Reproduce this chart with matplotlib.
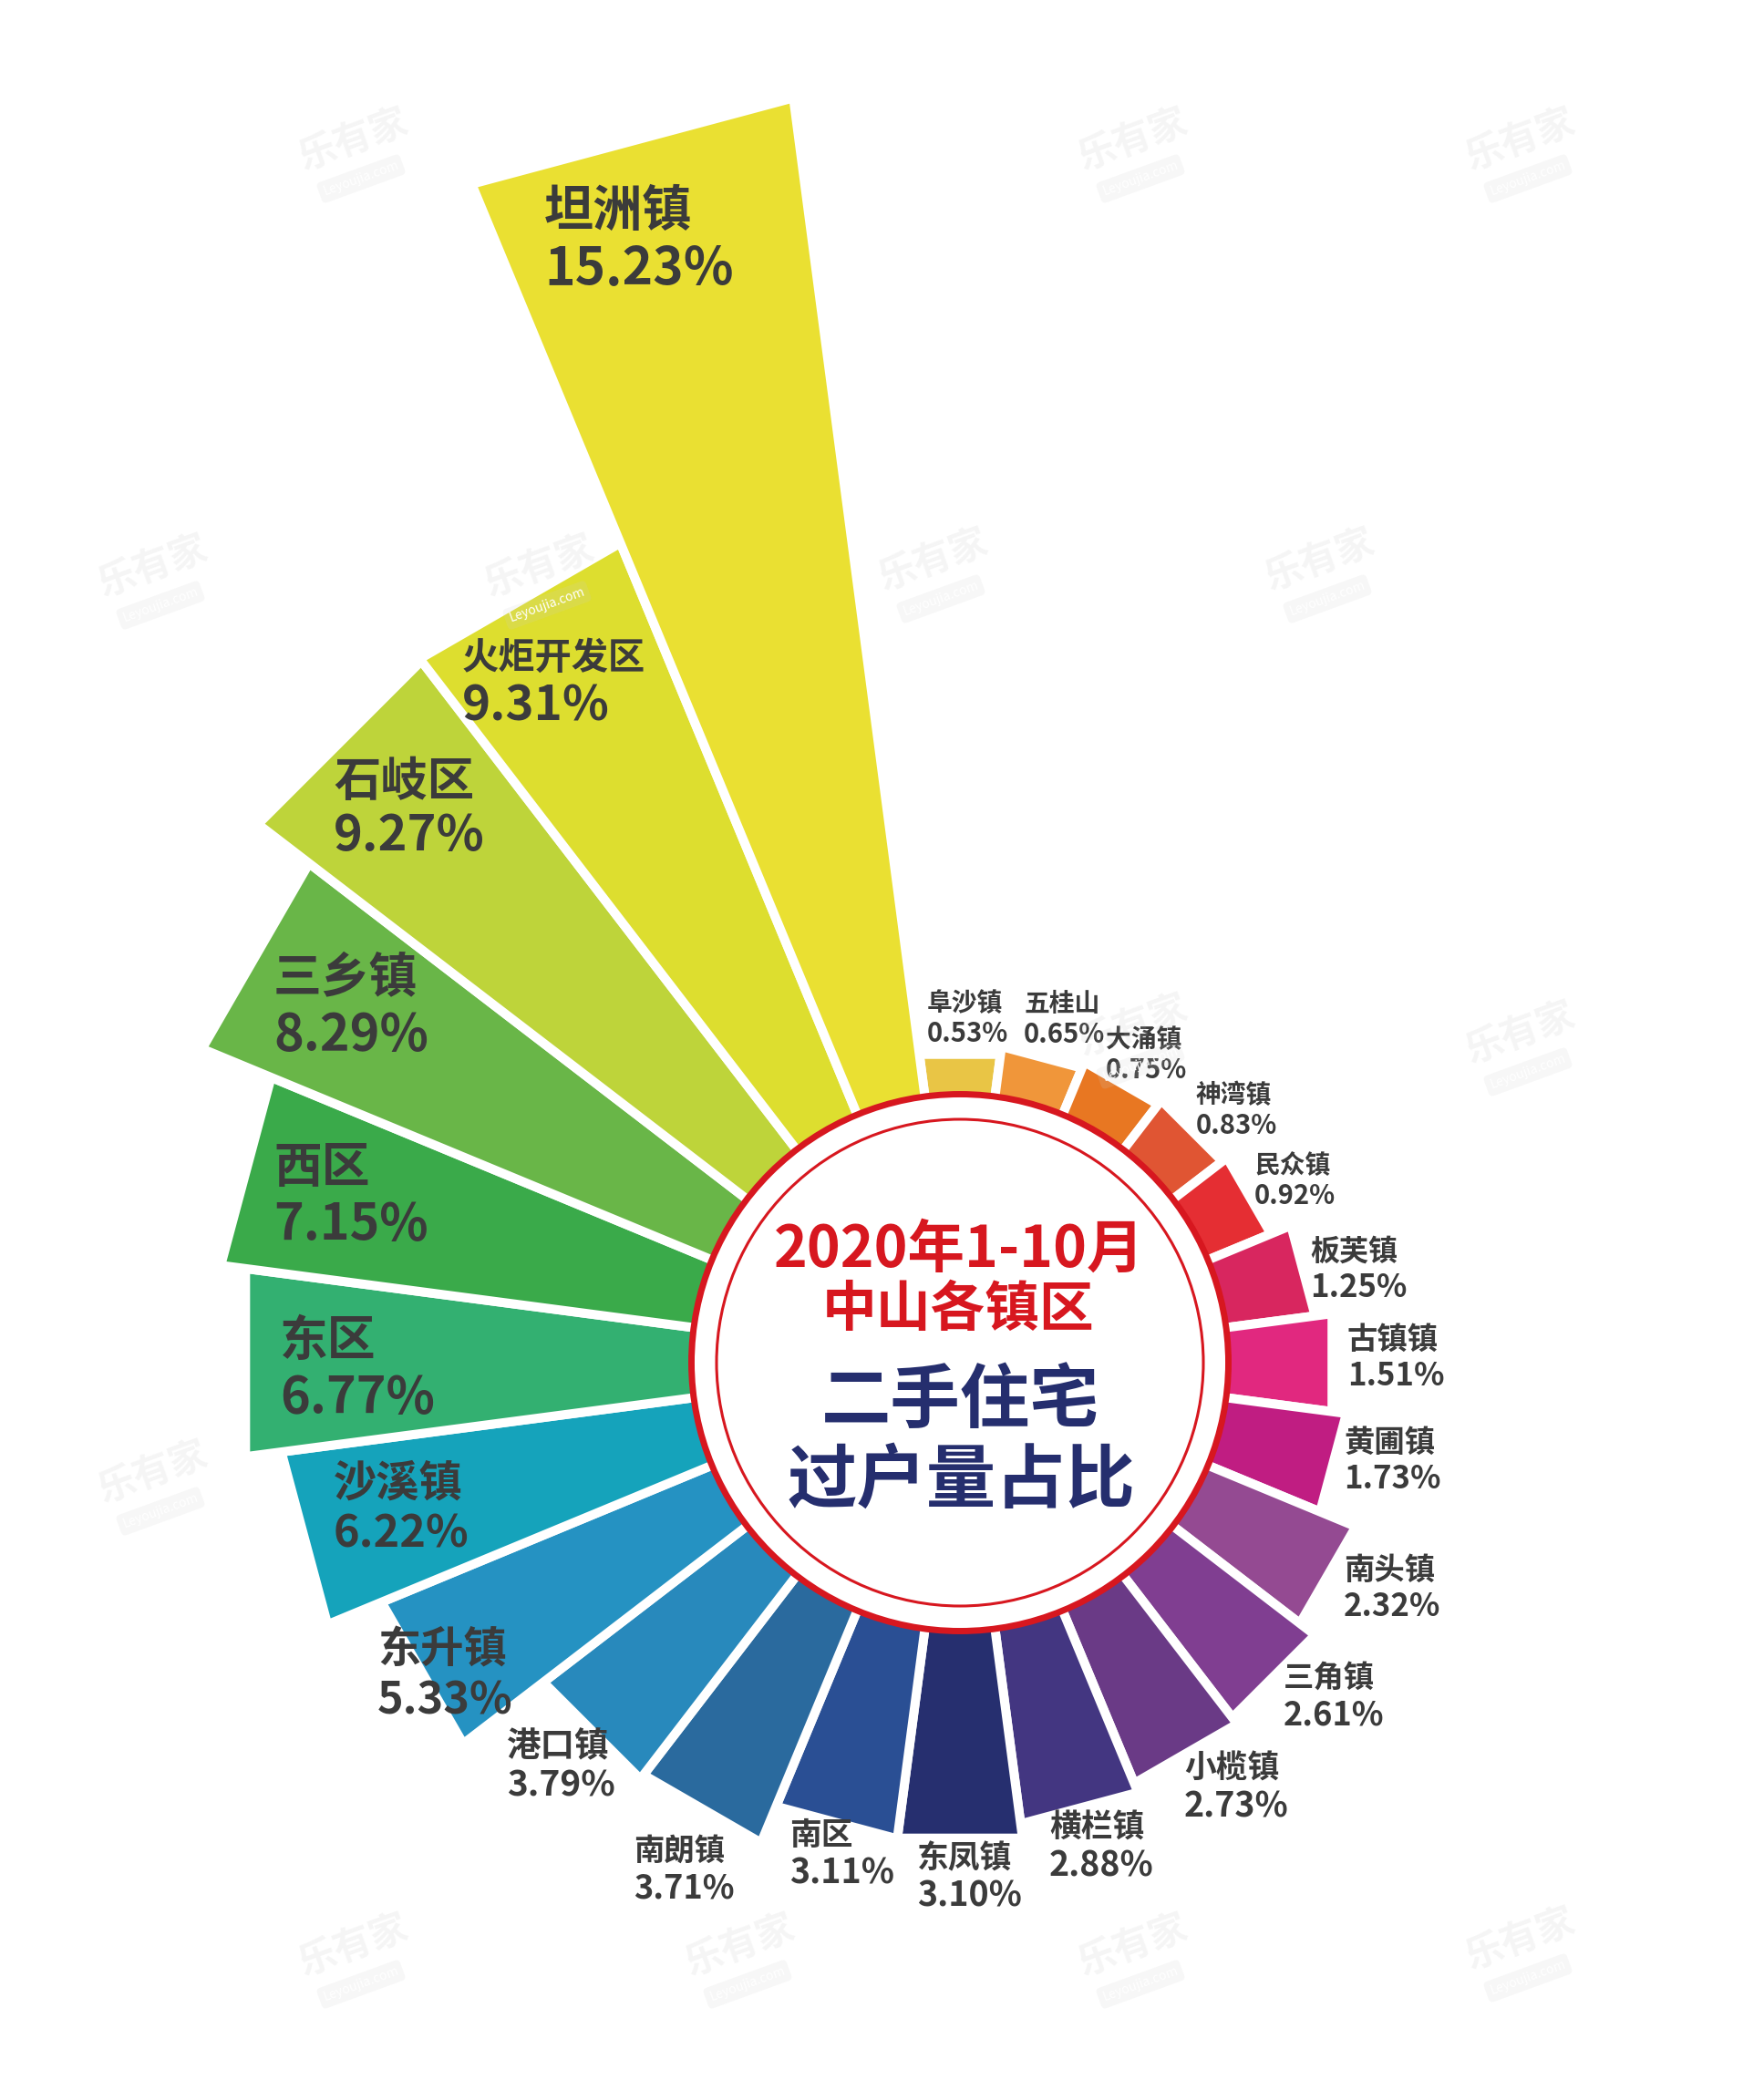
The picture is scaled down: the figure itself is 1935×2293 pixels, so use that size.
import numpy as np
import matplotlib.pyplot as plt
from matplotlib.patches import Circle

plt.rcParams['font.family'] = ['Noto Sans CJK SC', 'DejaVu Sans']

# =============================================================================
# Data: share of second-hand home transfers, Zhongshan, Jan-Oct 2020
# (clockwise from the top)
# =============================================================================
towns = ['阜沙镇', '五桂山', '大涌镇', '神湾镇', '民众镇', '板芙镇', '古镇镇',
         '黄圃镇', '南头镇', '三角镇', '小榄镇', '横栏镇', '东凤镇', '南区',
         '南朗镇', '港口镇', '东升镇', '沙溪镇', '东区', '西区', '三乡镇',
         '石岐区', '火炬开发区', '坦洲镇']
shares = [0.53, 0.65, 0.75, 0.83, 0.92, 1.25, 1.51, 1.73, 2.32, 2.61, 2.73,
          2.88, 3.10, 3.11, 3.71, 3.79, 5.33, 6.22, 6.77, 7.15, 8.29, 9.27,
          9.31, 15.23]
colors = ['#E9C545', '#F0963A', '#E87722', '#E05533', '#E52E33', '#D8265F',
          '#E1287F', '#C01D82', '#944A92', '#803E91', '#6A3A86', '#433681',
          '#262F6F', '#2A4F94', '#2A6A9E', '#2889BC', '#2592C2', '#15A3BB',
          '#33B071', '#3AAA4A', '#69B648', '#BED43A', '#DDDE2F', '#EAE032']

# label layout (top-left of town name, px from top-left of the image)
label_xy = [(1017, 1087), (1123, 1088), (1213, 1127), (1312, 1188),
            (1376, 1265), (1437, 1358), (1478, 1454), (1474, 1567),
            (1474, 1707), (1408, 1825), (1299, 1923), (1151, 1988),
            (1006, 2021), (866, 1996), (695, 2015), (556, 1896),
            (414, 1787), (366, 1604), (307, 1445), (300, 1255),
            (300, 1047), (366, 831), (507, 702), (597, 205)]
name_pt = [20, 20, 20, 20, 20, 23, 24, 24, 24, 24, 25, 25, 25, 25, 24, 27,
           34, 34, 38, 38, 38, 37, 29, 39]
pct_pt = [21, 21, 21, 21, 21, 25, 25, 25, 25, 26, 27, 27, 27, 27, 26, 28,
          35, 35, 40, 40, 40, 39, 38, 41]

W, H, DPI = 1935, 2293, 100
cx, cy = 1053, 1495          # centre of the rose, px
px_per_pct = 72.0
ring_px = 298
gap_px = 10
rmax = 20.0
base = (ring_px + gap_px / 2) / px_per_pct
red = '#D7171F'
navy = '#252E6E'
txt = '#3B3B3B'

fig = plt.figure(figsize=(W / DPI, H / DPI), dpi=DPI, facecolor='white')
half = rmax * px_per_pct
ax = fig.add_axes([(cx - half) / W, (H - cy - half) / H, 2 * half / W, 2 * half / H],
                  projection='polar')
ax.set_theta_zero_location('N')
ax.set_theta_direction(-1)
ax.set_ylim(0, rmax)
ax.axis('off')

step = 2 * np.pi / len(towns)
for i, (v, c) in enumerate(zip(shares, colors)):
    t0, t1 = i * step - step / 2, i * step + step / 2
    ax.fill([t0, t0, t1, t1], [0, base + v, base + v, 0], facecolor=c,
            edgecolor='white', linewidth=gap_px * 0.72, joinstyle='miter', zorder=1)

# centre disc with red rings
ax.add_patch(Circle((0.5, 0.5), (ring_px - 3.5) / (2 * half), transform=ax.transAxes,
                    facecolor='white', edgecolor=red, linewidth=5, zorder=3))
ax.add_patch(Circle((0.5, 0.5), 267 / (2 * half), transform=ax.transAxes,
                    facecolor='none', edgecolor=red, linewidth=2.2, zorder=4))


def fx(x):
    return x / W


def fy(y):
    return 1 - y / H


# watermarks
wm = [(388, 154), (1243, 154), (1668, 154), (168, 622), (592, 622),
      (1024, 615), (1448, 615), (1243, 1126), (1668, 1134), (168, 1616),
      (388, 2135), (812, 2135), (1243, 2135), (1668, 2128)]
for x, y in wm:
    fig.text(fx(x), fy(y), '乐有家', fontsize=30, fontweight='bold', color='#bdbdbd',
             alpha=0.14, rotation=20, ha='center', va='center', zorder=10)
    fig.text(fx(x + 8), fy(y + 42), 'Leyoujia.com', fontsize=10, color='white',
             rotation=20, ha='center', va='center', zorder=10,
             bbox=dict(boxstyle='round,pad=0.35', fc='#d0d0d0', ec='none', alpha=0.16))

# centre title
fig.text(fx(1052), fy(1390), '2020年1-10月', fontsize=45, fontweight='bold',
         color=red, ha='center', va='baseline', zorder=6)
fig.text(fx(1051), fy(1455), '中山各镇区', fontsize=43, fontweight='bold',
         color=red, ha='center', va='baseline', zorder=6)
fig.text(fx(1054), fy(1560), '二手住宅', fontsize=55, fontweight='heavy',
         color=navy, ha='center', va='baseline', zorder=6)
fig.text(fx(1054), fy(1648), '过户量占比', fontsize=55, fontweight='heavy',
         color=navy, ha='center', va='baseline', zorder=6)

# bar labels
for name, v, (x, y), s1, s2 in zip(towns, shares, label_xy, name_pt, pct_pt):
    fig.text(fx(x), fy(y), name, fontsize=s1, fontweight='bold', color=txt,
             ha='left', va='top', zorder=7)
    fig.text(fx(x), fy(y + s1 * 1.39 * 1.15), '%.2f%%' % v, fontsize=s2,
             fontweight='bold', color=txt, ha='left', va='top', zorder=7)

fig.savefig('out.png', dpi=DPI, facecolor='white')
